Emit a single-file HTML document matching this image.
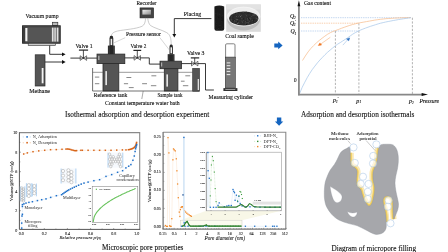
<!DOCTYPE html>
<html><head><meta charset="utf-8">
<style>
html,body{margin:0;padding:0;background:#fff;width:448px;height:252px;overflow:hidden}
svg{display:block;filter:blur(0.25px)}
text{font-family:"Liberation Serif",serif;fill:#111;stroke:#111;stroke-width:0.12}
.it{font-style:italic}
text.tn{stroke-width:0.04}
text.sm{stroke-width:0;fill:#222}
text.md{stroke-width:0.07}
</style></head>
<body>
<svg width="448" height="252" viewBox="0 0 448 252">
<rect width="448" height="252" fill="#fff"/>
<!-- ============ TOP LEFT: experiment ============ -->
<g id="exp">
<!-- vacuum pump -->
<text x="25.5" y="17.7" font-size="6.4" textLength="33" lengthAdjust="spacingAndGlyphs">Vacuum pump</text>
<rect x="52.6" y="22.3" width="5.2" height="3.2" fill="#bbb" stroke="#333" stroke-width="0.7"/>
<rect x="22.6" y="25.8" width="37.6" height="17.4" fill="#555" stroke="#222" stroke-width="1"/>
<rect x="23" y="26.2" width="2.3" height="16.6" fill="#3a3a3a"/>
<rect x="23" y="26.2" width="36.8" height="1.2" fill="#444"/>
<rect x="25.3" y="28" width="2.1" height="13.2" fill="#f4f4f4"/>
<rect x="51.9" y="27.6" width="1.7" height="14" fill="#e2e2e2"/>
<rect x="54.3" y="27.6" width="1.5" height="14" fill="#e2e2e2"/>
<rect x="56.7" y="27.6" width="1.7" height="14" fill="#e2e2e2"/>
<rect x="28.2" y="43.3" width="27.3" height="2.2" fill="#ccc" stroke="#333" stroke-width="0.6"/>
<!-- pipes with arrows -->
<path d="M49.7 45.5V54.3H62.5" fill="none" stroke="#222" stroke-width="0.9"/>
<path d="M62 52.4L65.6 54.3L62 56.2Z" fill="#111"/>
<path d="M45 62H62.5" fill="none" stroke="#222" stroke-width="0.9"/>
<path d="M62 60.1L65.6 62L62 63.9Z" fill="#111"/>
<!-- methane cylinder -->
<rect x="35.2" y="54.8" width="9.8" height="31.2" fill="#555" stroke="#2a2a2a" stroke-width="0.7"/>
<rect x="41.7" y="68" width="1.8" height="15.3" fill="#f4f4f4"/>
<text x="29.3" y="93.4" font-size="6.2" textLength="20.7" lengthAdjust="spacingAndGlyphs">Methane</text>
<!-- main pipe -->
<path d="M70.4 58.1H97" fill="none" stroke="#222" stroke-width="0.9"/>
<!-- valve 1 -->
<path d="M80.2 55.8L83.4 58.1L80.2 60.4ZM86.6 55.8L83.4 58.1L86.6 60.4Z" fill="#fff" stroke="#222" stroke-width="0.6" stroke-linejoin="miter"/><path d="M80.2 58.1H86.6" stroke="#222" stroke-width="0.6"/><path d="M83.4 58.1V50.1" stroke="#222" stroke-width="0.8"/><path d="M78.9 50.1H88.1" stroke="#222" stroke-width="1.2"/>
<text x="75.4" y="47.6" font-size="5.7" textLength="17.2" lengthAdjust="spacingAndGlyphs">Valve 1</text>
<!-- reference tank -->
<path d="M109.5 46V38.4Q109.5 35.8 111.4 35.6Q113.3 35.8 113.3 38.4V46Z" fill="#2a2a2a"/>
<rect x="110.6" y="38.8" width="1.6" height="6.4" fill="#f2f2f2"/>
<rect x="107.9" y="45.6" width="6.9" height="8.6" fill="#262626"/><path d="M109.1 46v8M113.6 46v8" stroke="#555" stroke-width="0.5"/>
<rect x="97" y="54.1" width="27.8" height="9.5" fill="#555" stroke="#2a2a2a" stroke-width="0.8"/>
<rect x="98.1" y="55.8" width="1.4" height="4.2" fill="#aaa"/>
<rect x="103" y="63.6" width="15.8" height="27.4" fill="#555" stroke="#2a2a2a" stroke-width="0.8"/>
<rect x="105.4" y="71.1" width="1.5" height="14" fill="#f4f4f4"/>
<!-- pipe to sample tank -->
<path d="M124.8 57.9H149.3V64.1H160" fill="none" stroke="#222" stroke-width="0.9"/>
<!-- valve 2 -->
<path d="M134.1 55.6L137.3 57.9L134.1 60.2ZM140.5 55.6L137.3 57.9L140.5 60.2Z" fill="#fff" stroke="#222" stroke-width="0.6" stroke-linejoin="miter"/><path d="M134.1 57.9H140.5" stroke="#222" stroke-width="0.6"/><path d="M137.3 57.9V50.4" stroke="#222" stroke-width="0.8"/><path d="M133.4 50.4H141.2" stroke="#222" stroke-width="1.2"/>
<text x="130.6" y="47.8" font-size="5.7" textLength="15.7" lengthAdjust="spacingAndGlyphs">Valve 2</text>
<!-- sample tank -->
<path d="M169.5 54.5V46.8Q169.5 44.4 171.2 44.3Q172.9 44.4 172.9 46.8V54.5Z" fill="#2a2a2a"/>
<rect x="170.5" y="47.3" width="1.5" height="6" fill="#f2f2f2"/>
<rect x="167.7" y="54.2" width="6.8" height="7" fill="#262626"/><path d="M168.9 54.5v6.6M173.3 54.5v6.6" stroke="#555" stroke-width="0.5"/>
<rect x="160" y="61.2" width="21.4" height="7.5" fill="#555" stroke="#2a2a2a" stroke-width="0.8"/>
<rect x="161" y="62.5" width="1.2" height="4" fill="#aaa"/>
<rect x="164.3" y="68.7" width="13.6" height="22.3" fill="#555" stroke="#2a2a2a" stroke-width="0.8"/>
<rect x="166.4" y="74.4" width="1.5" height="12.2" fill="#f4f4f4"/>
<!-- pipe to cylinder + valve 3 -->
<path d="M181.4 63.6H205.5V90H213.9" fill="none" stroke="#222" stroke-width="0.9"/>
<path d="M191.5 61.3L194.7 63.6L191.5 65.9ZM197.9 61.3L194.7 63.6L197.9 65.9Z" fill="#fff" stroke="#222" stroke-width="0.6" stroke-linejoin="miter"/><path d="M191.5 63.6H197.9" stroke="#222" stroke-width="0.6"/><path d="M194.7 63.6V57.9" stroke="#222" stroke-width="0.8"/><path d="M190.8 57.9H199.2" stroke="#222" stroke-width="1.2"/>
<text x="187" y="55.2" font-size="5.7" textLength="17.5" lengthAdjust="spacingAndGlyphs">Valve 3</text>
<!-- bath -->
<path d="M92.6 68V91H199.5" fill="none" stroke="#333" stroke-width="0.7"/>
<path d="M92.6 72.3H103M118.8 72.3H164.3M177.9 72.3H192.7" fill="none" stroke="#555" stroke-width="0.6"/>
<rect x="192.7" y="68.4" width="6.8" height="22.8" fill="#555" stroke="#2a2a2a" stroke-width="0.6"/>
<rect x="197.7" y="79" width="1.2" height="11" fill="#eee"/>
<g stroke="#555" stroke-width="0.7">
<path d="M94.9 77.1H99.3M94.9 83.7H99.3M126.4 77.5H131.3M123.9 83.7H128.1M128.8 87.6H133.7M151.4 75.8H156.3M142.1 83.7H147M150.9 85.7H156.3M185.3 75.8H190.2M180.9 81.2H184.6M182.9 85.7H188.3"/>
</g>
<path d="M143.2 91L141.8 99" stroke="#555" stroke-width="0.5"/>
<text x="93.7" y="96.8" font-size="6" textLength="33.6" lengthAdjust="spacingAndGlyphs">Reference tank</text>
<text x="157.5" y="96.8" font-size="6" textLength="25" lengthAdjust="spacingAndGlyphs">Sample tank</text>
<text x="105.1" y="104.6" font-size="6.2" textLength="74.5" lengthAdjust="spacingAndGlyphs">Constant temperature water bath</text>
<!-- recorder -->
<text x="136.4" y="5.2" font-size="5.6" textLength="20" lengthAdjust="spacingAndGlyphs">Recorder</text>
<rect x="140" y="7.9" width="13.6" height="10" fill="#444" stroke="#222" stroke-width="0.6"/>
<defs><linearGradient id="scr" x1="0" y1="0" x2="1" y2="1"><stop offset="0" stop-color="#f2f2f2"/><stop offset="1" stop-color="#8a8a8a"/></linearGradient></defs><rect x="142.4" y="9.8" width="8.5" height="4.8" fill="url(#scr)"/>
<path d="M145.5 17.9C145.5 22 144.6 25 142 26.3C136 29 125 29.5 117.6 31C113.5 32 111.6 33.5 111.4 35.8" fill="none" stroke="#aaa" stroke-width="0.6"/>
<path d="M147.7 17.9C148 21 148.8 24 150.5 25.5C154 28 162 30 166.7 32.6C170 34.5 171.2 38 171.2 44.4" fill="none" stroke="#aaa" stroke-width="0.6"/>
<path d="M125.2 37.7L114 42.8M159.9 37.7L169.4 50" stroke="#999" stroke-width="0.4"/>
<text x="126" y="36" font-size="5.9" textLength="35" lengthAdjust="spacingAndGlyphs">Pressure sensor</text>
<!-- placing -->
<text x="183.8" y="15.6" font-size="6" textLength="17.4" lengthAdjust="spacingAndGlyphs">Placing</text>
<path d="M211.4 18.6H174.3V34.5" fill="none" stroke="#222" stroke-width="0.9"/>
<path d="M172.4 34L174.3 37.6L176.2 34Z" fill="#111"/>
<!-- coal container & photo -->
<path d="M214.4 6.4Q219.3 4.8 224.2 6.4V28.8Q224.2 30.8 222.2 30.8H216.4Q214.4 30.8 214.4 28.8Z" fill="#1b1b1b"/>
<g><circle cx="222.8" cy="20.7" r="0.35" fill="#0a0a0a"/><circle cx="217.5" cy="29.6" r="0.35" fill="#3a3a3a"/><circle cx="221.8" cy="29.1" r="0.35" fill="#3a3a3a"/><circle cx="217.1" cy="13.1" r="0.35" fill="#3a3a3a"/><circle cx="220.4" cy="14.9" r="0.35" fill="#333"/><circle cx="215.5" cy="17.0" r="0.35" fill="#333"/><circle cx="220.1" cy="7.1" r="0.35" fill="#333"/><circle cx="220.9" cy="7.4" r="0.35" fill="#0a0a0a"/><circle cx="215.3" cy="8.2" r="0.35" fill="#0a0a0a"/><circle cx="219.4" cy="14.6" r="0.35" fill="#3a3a3a"/><circle cx="217.9" cy="18.0" r="0.35" fill="#3a3a3a"/><circle cx="223.1" cy="7.8" r="0.35" fill="#3a3a3a"/><circle cx="221.5" cy="21.5" r="0.35" fill="#3a3a3a"/><circle cx="215.8" cy="13.7" r="0.35" fill="#3a3a3a"/><circle cx="216.0" cy="16.0" r="0.35" fill="#3a3a3a"/><circle cx="219.6" cy="24.9" r="0.35" fill="#3a3a3a"/><circle cx="216.5" cy="24.0" r="0.35" fill="#0a0a0a"/><circle cx="218.3" cy="28.6" r="0.35" fill="#3a3a3a"/><circle cx="222.9" cy="15.3" r="0.35" fill="#3a3a3a"/><circle cx="218.8" cy="17.2" r="0.35" fill="#0a0a0a"/><circle cx="219.1" cy="13.2" r="0.35" fill="#333"/><circle cx="219.4" cy="24.3" r="0.35" fill="#0a0a0a"/><circle cx="221.0" cy="28.8" r="0.35" fill="#333"/><circle cx="216.3" cy="23.3" r="0.35" fill="#333"/><circle cx="222.1" cy="9.1" r="0.35" fill="#0a0a0a"/><circle cx="220.8" cy="9.2" r="0.35" fill="#333"/><circle cx="220.2" cy="25.4" r="0.35" fill="#333"/><circle cx="222.6" cy="27.1" r="0.35" fill="#3a3a3a"/><circle cx="219.0" cy="27.0" r="0.35" fill="#0a0a0a"/><circle cx="217.9" cy="15.5" r="0.35" fill="#333"/><circle cx="216.7" cy="25.1" r="0.35" fill="#333"/><circle cx="217.9" cy="14.2" r="0.35" fill="#3a3a3a"/><circle cx="215.7" cy="21.9" r="0.35" fill="#333"/><circle cx="220.9" cy="29.5" r="0.35" fill="#0a0a0a"/><circle cx="216.2" cy="29.7" r="0.35" fill="#333"/><circle cx="217.0" cy="29.2" r="0.35" fill="#333"/><circle cx="222.3" cy="18.9" r="0.35" fill="#0a0a0a"/><circle cx="221.7" cy="20.9" r="0.35" fill="#0a0a0a"/><circle cx="221.7" cy="17.8" r="0.35" fill="#0a0a0a"/><circle cx="215.7" cy="26.0" r="0.35" fill="#333"/></g>
<rect x="226.2" y="4.5" width="34.6" height="27.3" fill="#dadada"/>
<rect x="226.2" y="4.5" width="34.6" height="5" fill="#e2e2e2"/>
<ellipse cx="243.6" cy="19" rx="16.6" ry="11.4" fill="#bdbdbd"/>
<ellipse cx="243.6" cy="16.6" rx="16.3" ry="9.5" fill="#ededed" stroke="#fbfbfb" stroke-width="0.6"/>
<ellipse cx="243.8" cy="18.5" rx="14.6" ry="7.1" fill="#2e2e2e"/>
<g><circle cx="236.0" cy="19.1" r="0.52" fill="#4a4a4a"/><circle cx="243.0" cy="19.6" r="0.25" fill="#1a1a1a"/><circle cx="253.7" cy="15.1" r="0.31" fill="#666"/><circle cx="250.2" cy="19.1" r="0.39" fill="#1a1a1a"/><circle cx="247.9" cy="13.6" r="0.30" fill="#111"/><circle cx="256.3" cy="17.0" r="0.45" fill="#555"/><circle cx="246.4" cy="15.7" r="0.50" fill="#555"/><circle cx="236.9" cy="19.8" r="0.46" fill="#777"/><circle cx="256.2" cy="17.0" r="0.38" fill="#1a1a1a"/><circle cx="241.9" cy="20.3" r="0.38" fill="#4a4a4a"/><circle cx="253.6" cy="19.5" r="0.43" fill="#1a1a1a"/><circle cx="246.2" cy="24.2" r="0.52" fill="#111"/><circle cx="246.9" cy="21.2" r="0.51" fill="#111"/><circle cx="245.8" cy="21.5" r="0.44" fill="#666"/><circle cx="232.7" cy="18.2" r="0.55" fill="#111"/><circle cx="241.1" cy="13.6" r="0.38" fill="#4a4a4a"/><circle cx="241.2" cy="13.2" r="0.43" fill="#1a1a1a"/><circle cx="238.8" cy="23.8" r="0.40" fill="#4a4a4a"/><circle cx="231.3" cy="19.9" r="0.53" fill="#555"/><circle cx="236.8" cy="21.2" r="0.34" fill="#4a4a4a"/><circle cx="240.1" cy="17.9" r="0.37" fill="#1a1a1a"/><circle cx="254.6" cy="21.0" r="0.44" fill="#555"/><circle cx="256.7" cy="18.6" r="0.44" fill="#777"/><circle cx="241.9" cy="15.1" r="0.41" fill="#4a4a4a"/><circle cx="246.1" cy="11.8" r="0.43" fill="#1a1a1a"/><circle cx="232.9" cy="20.4" r="0.39" fill="#4a4a4a"/><circle cx="249.0" cy="16.4" r="0.33" fill="#111"/><circle cx="243.4" cy="19.8" r="0.26" fill="#111"/><circle cx="239.9" cy="20.3" r="0.43" fill="#4a4a4a"/><circle cx="238.4" cy="16.6" r="0.48" fill="#4a4a4a"/><circle cx="253.9" cy="15.2" r="0.28" fill="#777"/><circle cx="249.2" cy="13.3" r="0.32" fill="#1a1a1a"/><circle cx="252.7" cy="14.8" r="0.45" fill="#666"/><circle cx="248.2" cy="12.9" r="0.35" fill="#1a1a1a"/><circle cx="238.8" cy="23.2" r="0.49" fill="#777"/><circle cx="250.9" cy="14.6" r="0.39" fill="#1a1a1a"/><circle cx="235.6" cy="13.2" r="0.54" fill="#1a1a1a"/><circle cx="238.3" cy="23.2" r="0.31" fill="#1a1a1a"/><circle cx="237.2" cy="22.8" r="0.28" fill="#111"/><circle cx="247.3" cy="19.8" r="0.34" fill="#777"/><circle cx="252.4" cy="15.3" r="0.44" fill="#4a4a4a"/><circle cx="237.6" cy="19.5" r="0.53" fill="#555"/><circle cx="235.6" cy="21.9" r="0.47" fill="#111"/><circle cx="257.4" cy="19.1" r="0.51" fill="#666"/><circle cx="232.5" cy="14.9" r="0.52" fill="#555"/><circle cx="249.5" cy="24.4" r="0.42" fill="#777"/><circle cx="234.1" cy="15.7" r="0.26" fill="#111"/><circle cx="244.8" cy="12.2" r="0.28" fill="#1a1a1a"/><circle cx="245.0" cy="22.9" r="0.36" fill="#555"/><circle cx="234.8" cy="19.0" r="0.30" fill="#555"/><circle cx="252.8" cy="23.0" r="0.40" fill="#555"/><circle cx="245.8" cy="17.1" r="0.32" fill="#4a4a4a"/><circle cx="247.2" cy="18.8" r="0.39" fill="#555"/><circle cx="231.5" cy="18.5" r="0.30" fill="#4a4a4a"/><circle cx="231.1" cy="16.9" r="0.43" fill="#777"/><circle cx="239.6" cy="14.2" r="0.38" fill="#4a4a4a"/><circle cx="250.3" cy="22.6" r="0.30" fill="#1a1a1a"/><circle cx="240.0" cy="20.0" r="0.36" fill="#1a1a1a"/><circle cx="252.6" cy="20.2" r="0.27" fill="#777"/><circle cx="247.5" cy="22.1" r="0.38" fill="#4a4a4a"/><circle cx="249.5" cy="18.0" r="0.32" fill="#666"/><circle cx="237.0" cy="19.8" r="0.32" fill="#777"/><circle cx="245.5" cy="23.7" r="0.39" fill="#555"/><circle cx="248.5" cy="23.9" r="0.45" fill="#777"/><circle cx="250.6" cy="19.4" r="0.49" fill="#555"/><circle cx="250.1" cy="18.1" r="0.48" fill="#666"/><circle cx="253.9" cy="20.9" r="0.54" fill="#111"/><circle cx="246.1" cy="22.7" r="0.55" fill="#555"/><circle cx="245.6" cy="18.9" r="0.28" fill="#666"/><circle cx="230.8" cy="16.0" r="0.30" fill="#1a1a1a"/><circle cx="248.1" cy="17.9" r="0.48" fill="#111"/><circle cx="240.6" cy="16.6" r="0.53" fill="#777"/><circle cx="245.4" cy="25.0" r="0.40" fill="#777"/><circle cx="251.0" cy="13.7" r="0.42" fill="#111"/><circle cx="246.1" cy="24.4" r="0.40" fill="#111"/><circle cx="248.0" cy="24.1" r="0.30" fill="#666"/><circle cx="243.7" cy="18.3" r="0.41" fill="#111"/><circle cx="242.1" cy="21.6" r="0.29" fill="#666"/><circle cx="251.2" cy="13.6" r="0.34" fill="#1a1a1a"/><circle cx="235.9" cy="21.2" r="0.45" fill="#4a4a4a"/><circle cx="254.2" cy="19.8" r="0.43" fill="#1a1a1a"/><circle cx="236.9" cy="14.5" r="0.33" fill="#555"/><circle cx="252.7" cy="14.3" r="0.36" fill="#1a1a1a"/><circle cx="238.5" cy="22.3" r="0.38" fill="#666"/><circle cx="249.6" cy="21.3" r="0.39" fill="#666"/><circle cx="253.6" cy="23.0" r="0.26" fill="#1a1a1a"/><circle cx="248.1" cy="22.4" r="0.54" fill="#555"/><circle cx="254.2" cy="14.9" r="0.48" fill="#666"/><circle cx="233.1" cy="20.2" r="0.51" fill="#111"/><circle cx="255.5" cy="15.1" r="0.34" fill="#555"/><circle cx="241.5" cy="21.7" r="0.29" fill="#555"/><circle cx="230.1" cy="17.8" r="0.45" fill="#111"/><circle cx="241.9" cy="18.3" r="0.44" fill="#666"/><circle cx="250.9" cy="18.4" r="0.41" fill="#666"/><circle cx="232.5" cy="15.3" r="0.38" fill="#111"/><circle cx="241.9" cy="18.9" r="0.28" fill="#4a4a4a"/><circle cx="256.8" cy="16.7" r="0.48" fill="#4a4a4a"/><circle cx="237.7" cy="21.0" r="0.53" fill="#111"/><circle cx="256.9" cy="16.2" r="0.41" fill="#1a1a1a"/><circle cx="232.3" cy="18.4" r="0.27" fill="#4a4a4a"/><circle cx="237.7" cy="21.7" r="0.30" fill="#111"/><circle cx="248.0" cy="20.3" r="0.36" fill="#666"/><circle cx="256.1" cy="17.9" r="0.53" fill="#555"/><circle cx="233.2" cy="16.1" r="0.44" fill="#111"/><circle cx="241.4" cy="15.7" r="0.39" fill="#666"/><circle cx="238.2" cy="14.0" r="0.28" fill="#555"/><circle cx="234.3" cy="19.3" r="0.47" fill="#1a1a1a"/><circle cx="239.6" cy="15.2" r="0.27" fill="#777"/><circle cx="233.0" cy="18.2" r="0.32" fill="#4a4a4a"/><circle cx="251.7" cy="16.5" r="0.53" fill="#4a4a4a"/><circle cx="242.2" cy="22.8" r="0.36" fill="#555"/><circle cx="237.0" cy="12.9" r="0.42" fill="#555"/><circle cx="249.6" cy="19.4" r="0.47" fill="#111"/><circle cx="253.1" cy="22.0" r="0.43" fill="#1a1a1a"/><circle cx="254.4" cy="22.7" r="0.41" fill="#1a1a1a"/><circle cx="245.8" cy="14.3" r="0.36" fill="#4a4a4a"/><circle cx="237.6" cy="23.3" r="0.52" fill="#777"/><circle cx="257.0" cy="16.9" r="0.52" fill="#1a1a1a"/><circle cx="238.1" cy="18.5" r="0.46" fill="#1a1a1a"/><circle cx="237.8" cy="23.5" r="0.26" fill="#777"/><circle cx="234.6" cy="20.4" r="0.48" fill="#555"/><circle cx="248.5" cy="18.4" r="0.44" fill="#1a1a1a"/><circle cx="234.9" cy="22.5" r="0.26" fill="#666"/><circle cx="243.8" cy="20.5" r="0.28" fill="#777"/><circle cx="237.4" cy="20.7" r="0.29" fill="#666"/><circle cx="252.4" cy="20.2" r="0.26" fill="#555"/><circle cx="247.2" cy="18.6" r="0.41" fill="#777"/><circle cx="256.4" cy="16.0" r="0.46" fill="#4a4a4a"/><circle cx="246.7" cy="24.5" r="0.27" fill="#111"/><circle cx="234.9" cy="21.3" r="0.40" fill="#666"/><circle cx="233.7" cy="18.5" r="0.27" fill="#111"/><circle cx="254.1" cy="14.4" r="0.34" fill="#777"/><circle cx="242.7" cy="22.1" r="0.38" fill="#777"/><circle cx="242.4" cy="12.0" r="0.36" fill="#4a4a4a"/><circle cx="239.9" cy="18.9" r="0.37" fill="#1a1a1a"/><circle cx="236.6" cy="16.7" r="0.41" fill="#777"/><circle cx="246.2" cy="18.6" r="0.26" fill="#111"/><circle cx="243.5" cy="12.3" r="0.37" fill="#555"/><circle cx="250.1" cy="14.8" r="0.37" fill="#555"/><circle cx="243.0" cy="13.8" r="0.28" fill="#1a1a1a"/></g>
<text x="225.2" y="37.6" font-size="6.3" textLength="28.5" lengthAdjust="spacingAndGlyphs">Coal sample</text>
<!-- measuring cylinder -->
<rect x="225.6" y="43.8" width="9.4" height="15" rx="1.2" fill="#fff" stroke="#777" stroke-width="0.9"/>
<rect x="225.3" y="57.1" width="10" height="31" fill="#777" stroke="#333" stroke-width="0.6"/>
<g fill="#eee"><rect x="226.7" y="62.4" width="3.6" height="1"/><rect x="226.7" y="65.2" width="3.6" height="1"/><rect x="226.7" y="68.1" width="3.6" height="1"/><rect x="226.7" y="70.9" width="3.6" height="1"/><rect x="226.7" y="74.1" width="3.6" height="1"/></g>
<rect x="223.4" y="88.1" width="14" height="2.9" fill="#333"/>
<rect x="225.3" y="89" width="10" height="1" fill="#999"/>
<text x="208.6" y="98.6" font-size="6.1" textLength="44.4" lengthAdjust="spacingAndGlyphs">Measuring cylinder</text>
<!-- title -->
<text x="65" y="116.7" font-size="8.4" textLength="144.2" lengthAdjust="spacingAndGlyphs">Isothermal adsorption and desorption experiment</text>
</g>
<!-- ============ TOP RIGHT: isotherms ============ -->
<g id="iso">
<path d="M301 17.7H411" stroke="#bcd2ee" stroke-width="0.9" stroke-dasharray="1.4 0.9"/>
<path d="M301 23.2H358.8" stroke="#f8cba6" stroke-width="0.9" stroke-dasharray="1.4 0.9"/>
<path d="M301 31H358.8" stroke="#bcd2ee" stroke-width="0.9" stroke-dasharray="1.4 0.9"/>
<path d="M335.4 31V94M358.9 23.2V94M412.4 17.7V94" stroke="#999" stroke-width="0.75" stroke-dasharray="2.2 1.5"/>
<path d="M302.5 60.5 L305.3 56.0 L308.1 51.9 L310.8 48.5 L313.6 45.6 L316.4 42.9 L319.2 40.5 L322.0 38.3 L324.8 36.2 L327.5 34.3 L330.3 32.7 L333.1 31.4 L335.9 30.4 L338.7 29.4 L341.4 28.3 L344.2 27.3 L347.0 26.3 L349.8 25.4 L352.6 24.5 L355.4 23.8 L358.1 23.1 L360.9 22.6 L363.7 22.1 L366.5 21.6 L369.3 21.1 L372.1 20.6 L374.8 20.1 L377.6 19.7 L380.4 19.3 L383.2 19.0 L386.0 18.7 L388.7 18.5 L391.5 18.3 L394.3 18.1 L397.1 18.0 L399.9 17.9 L402.7 17.8 L405.4 17.7 L408.2 17.6 L411.0 17.6" fill="none" stroke="#f7bd8f" stroke-width="0.75"/>
<path d="M299.7 93.3 L302.2 87.3 L304.8 82.2 L307.3 77.5 L309.8 73.3 L312.3 69.5 L314.9 66.1 L317.4 62.9 L319.9 60.0 L322.5 57.3 L325.0 54.7 L327.5 52.3 L330.1 50.1 L332.6 48.0 L335.1 46.0 L337.6 44.2 L340.2 42.6 L342.7 41.0 L345.2 39.4 L347.8 37.7 L350.3 35.9 L352.8 34.1 L355.4 32.6 L357.9 31.3 L360.4 30.1 L362.9 29.1 L365.5 28.1 L368.0 27.2 L370.5 26.3 L373.1 25.5 L375.6 24.7 L378.1 23.9 L380.6 23.2 L383.2 22.6 L385.7 22.0 L388.2 21.5 L390.8 21.0 L393.3 20.5 L395.8 20.1 L398.4 19.6 L400.9 19.2 L403.4 18.8 L405.9 18.4 L408.5 18.0 L411.0 17.6" fill="none" stroke="#a9c8ea" stroke-width="0.75"/>
<path d="M330.3 37.3L320.8 44" stroke="#f7b27a" stroke-width="0.6"/>
<path d="M318.3 45.5L319.9 42.9L321.6 45Z" fill="#ee7420" stroke="#ee7420" stroke-width="0.5"/>
<path d="M342.9 45.1L347.6 39.8" stroke="#9dc0e6" stroke-width="0.6"/>
<path d="M349.7 37.9L348.7 40.8L346.6 39Z" fill="#2a6fc0" stroke="#2a6fc0" stroke-width="0.5"/>
<path d="M298.9 95.3V5" stroke="#888" stroke-width="1.8"/>
<path d="M297.5 6.3L298.9 0.3L300.3 6.3Z" fill="#111"/>
<path d="M298 94.6H423" stroke="#888" stroke-width="1.6"/>
<path d="M421.6 93.1L428 94.6L421.6 96.1Z" fill="#111"/>
<text x="304" y="4.6" font-size="5.4" textLength="27" lengthAdjust="spacingAndGlyphs">Gas content</text>
<g font-style="italic"><text x="290" y="17.7" font-size="5.8">Q</text><text x="294.1" y="18.8" font-size="3.4">2</text>
<text x="290" y="24.9" font-size="5.8">Q</text><text x="294.1" y="26" font-size="3.4">1</text><text x="295.3" y="23.2" font-size="3.4">′</text>
<text x="290.4" y="33.4" font-size="5.8">Q</text><text x="294.5" y="34.5" font-size="3.4">1</text></g>
<text x="294" y="81.6" font-size="5.2">0</text>
<g font-style="italic"><text x="333" y="102.3" font-size="6">p</text><text x="336.1" y="103.2" font-size="3.4">1</text><text x="337.6" y="100.2" font-size="3.6">′</text>
<text x="356.3" y="102.5" font-size="6">p</text><text x="359.4" y="103.4" font-size="3.4">1</text>
<text x="409" y="102.6" font-size="6">p</text><text x="412.1" y="103.5" font-size="3.4">2</text></g>
<text x="419.4" y="103.2" font-size="5.3" font-style="italic" textLength="19.6" lengthAdjust="spacingAndGlyphs">Pressure</text>
<text x="301" y="116.7" font-size="8.4" textLength="113.3" lengthAdjust="spacingAndGlyphs">Adsorption and desorption isothermals</text>
</g>
<!-- big blue arrows -->
<path d="M274.3 43.4H278.2V41.6L282.6 45.4L278.2 49.2V47.4H274.3Z" fill="#1565c0"/>
<path d="M276.9 117.6H281.3V121.4H283.3L279.1 125.7L274.9 121.4H276.9Z" fill="#1565c0"/>
<!-- ============ BOTTOM LEFT: N2 isotherm ============ -->
<g id="c1">
<path d="M19.4 132.6H139.7V229.4" fill="none" stroke="#8a8a8a" stroke-width="1.1"/>
<path d="M19.4 132.2V229.4H140.2" fill="none" stroke="#555" stroke-width="1"/>
<path d="M19.4 220.4h1 M19.4 210.7h1.6 M19.4 200.9h1 M19.4 191.2h1.6 M19.4 181.4h1 M19.4 171.7h1.6 M19.4 161.9h1 M19.4 152.2h1.6 M19.4 142.4h1 M32.8 229.4v-0.9 M44.3 229.4v-1.4 M55.9 229.4v-0.9 M67.4 229.4v-1.4 M79.0 229.4v-0.9 M90.6 229.4v-1.4 M102.1 229.4v-0.9 M113.7 229.4v-1.4 M125.2 229.4v-0.9" stroke="#555" stroke-width="0.5"/>
<text class="md" x="17.4" y="134.0" font-size="4.1" text-anchor="end">10</text>
<text class="md" x="17.4" y="153.7" font-size="4.1" text-anchor="end">8</text>
<text class="md" x="17.4" y="173.3" font-size="4.1" text-anchor="end">6</text>
<text class="md" x="17.4" y="192.6" font-size="4.1" text-anchor="end">4</text>
<text class="md" x="17.4" y="212.3" font-size="4.1" text-anchor="end">2</text>
<text class="md" x="17.4" y="231.5" font-size="4.1" text-anchor="end">0</text>
<text class="md" x="21.2" y="234.8" font-size="4.1" text-anchor="middle">0.0</text>
<text class="md" x="44.3" y="234.8" font-size="4.1" text-anchor="middle">0.2</text>
<text class="md" x="67.5" y="234.8" font-size="4.1" text-anchor="middle">0.4</text>
<text class="md" x="90.6" y="234.8" font-size="4.1" text-anchor="middle">0.6</text>
<text class="md" x="113.7" y="234.8" font-size="4.1" text-anchor="middle">0.8</text>
<text class="md" x="136.8" y="234.8" font-size="4.1" text-anchor="middle">1.0</text>
<text class="md" x="59.4" y="239.4" font-size="5" font-style="italic" textLength="41.6" lengthAdjust="spacingAndGlyphs">Relative pressure <tspan>p/p</tspan><tspan font-size="3" dy="0.8">0</tspan></text>
<text class="md" transform="translate(12.7 201.2) rotate(-90)" font-size="4.8" textLength="39.8" lengthAdjust="spacingAndGlyphs">Volume@STP (cc/g)</text>
<g><circle cx="23.3" cy="136.9" r="0.7" fill="#cfe2f5"/><rect x="26.3" y="136.1" width="1.6" height="1.6" fill="#1e6fc8"/><circle cx="30.3" cy="136.9" r="0.7" fill="#cfe2f5"/>
<circle cx="23.3" cy="142.7" r="0.7" fill="#f8d8c0"/><rect x="26.3" y="141.9" width="1.6" height="1.6" fill="#d8661a"/><circle cx="30.3" cy="142.7" r="0.7" fill="#f8d8c0"/></g>
<text class="sm" x="32.8" y="138.4" font-size="4.3" textLength="24" lengthAdjust="spacingAndGlyphs">N<tspan font-size="2.8" dy="0.8">2</tspan><tspan dy="-0.8"> Adsorption</tspan></text>
<text class="sm" x="32.8" y="144.2" font-size="4.3" textLength="24" lengthAdjust="spacingAndGlyphs">N<tspan font-size="2.8" dy="0.8">2</tspan><tspan dy="-0.8"> Desorption</tspan></text>
<path d="M23.7 154.0 L27.3 152.9 L33.0 151.7 L38.7 150.9 L44.7 150.3 L50.6 149.7 L56.3 149.6 L62.0 149.3 L66.0 149.1 L67.3 149.0 L68.5 149.1 L69.7 149.3 L70.9 149.6 L72.0 150.0 L73.2 150.3 L74.4 150.6 L75.6 150.7 L76.6 150.6 L80.9 150.3 L82.4 150.3 L88.1 150.3 L93.9 150.3 L99.6 150.3 L105.3 150.3 L111.0 150.3 L116.7 150.1 L122.4 149.9 L126.0 149.9 L128.5 149.7 L129.6 149.5 L130.7 149.2 L131.7 148.9 L132.6 148.5 L133.5 148.0 L134.3 147.4 L135.0 146.6 L135.6 145.6 L136.1 144.5 L136.4 143.4 L136.6 142.4" fill="none" stroke="#f3c9a8" stroke-width="0.6" stroke-dasharray="0.8 0.8"/>
<g fill="#d8661a"><rect x="22.95" y="153.25" width="1.5" height="1.5"/><rect x="26.55" y="152.15" width="1.5" height="1.5"/><rect x="32.25" y="150.95" width="1.5" height="1.5"/><rect x="37.95" y="150.15" width="1.5" height="1.5"/><rect x="43.95" y="149.55" width="1.5" height="1.5"/><rect x="49.85" y="148.95" width="1.5" height="1.5"/><rect x="55.55" y="148.85" width="1.5" height="1.5"/><rect x="61.25" y="148.55" width="1.5" height="1.5"/><rect x="65.25" y="148.35" width="1.5" height="1.5"/><rect x="66.55" y="148.25" width="1.5" height="1.5"/><rect x="67.75" y="148.35" width="1.5" height="1.5"/><rect x="68.95" y="148.55" width="1.5" height="1.5"/><rect x="70.15" y="148.85" width="1.5" height="1.5"/><rect x="71.25" y="149.25" width="1.5" height="1.5"/><rect x="72.45" y="149.55" width="1.5" height="1.5"/><rect x="73.65" y="149.85" width="1.5" height="1.5"/><rect x="74.85" y="149.95" width="1.5" height="1.5"/><rect x="75.85" y="149.85" width="1.5" height="1.5"/><rect x="80.15" y="149.55" width="1.5" height="1.5"/><rect x="81.65" y="149.55" width="1.5" height="1.5"/><rect x="87.35" y="149.55" width="1.5" height="1.5"/><rect x="93.15" y="149.55" width="1.5" height="1.5"/><rect x="98.85" y="149.55" width="1.5" height="1.5"/><rect x="104.55" y="149.55" width="1.5" height="1.5"/><rect x="110.25" y="149.55" width="1.5" height="1.5"/><rect x="115.95" y="149.35" width="1.5" height="1.5"/><rect x="121.65" y="149.15" width="1.5" height="1.5"/><rect x="125.25" y="149.15" width="1.5" height="1.5"/><rect x="127.75" y="148.95" width="1.5" height="1.5"/><rect x="128.85" y="148.75" width="1.5" height="1.5"/><rect x="129.95" y="148.45" width="1.5" height="1.5"/><rect x="130.95" y="148.15" width="1.5" height="1.5"/><rect x="131.85" y="147.75" width="1.5" height="1.5"/><rect x="132.75" y="147.25" width="1.5" height="1.5"/><rect x="133.55" y="146.65" width="1.5" height="1.5"/><rect x="134.25" y="145.85" width="1.5" height="1.5"/><rect x="134.85" y="144.85" width="1.5" height="1.5"/><rect x="135.35" y="143.75" width="1.5" height="1.5"/><rect x="135.65" y="142.65" width="1.5" height="1.5"/><rect x="135.85" y="141.65" width="1.5" height="1.5"/></g>
<path d="M21.7 228.1 L21.7 223.1 L22.0 216.0 L22.4 214.3 L22.4 206.5 L22.4 204.6 L23.9 203.9 L26.0 203.1 L28.9 202.4 L32.4 201.7 L37.4 200.6 L41.7 199.7 L46.0 198.9 L50.7 197.4 L56.4 195.7 L61.6 194.7 L62.8 193.8 L64.0 193.0 L65.2 192.2 L66.4 191.4 L67.6 190.6 L68.8 189.9 L70.5 189.0 L72.4 188.1 L74.3 187.2 L76.3 186.3 L78.6 185.2 L81.2 184.1 L84.0 183.1 L88.1 182.1 L93.9 180.7 L99.6 179.7 L106.0 176.4 L111.7 174.6 L117.6 172.3 L122.6 170.7 L125.9 167.9 L128.7 166.2 L130.9 164.6 L132.9 160.3 L134.3 156.0 L135.1 151.5 L135.6 148.8 L136.0 147.2 L136.4 145.8 L136.7 144.6" fill="none" stroke="#b9d5f0" stroke-width="0.6" stroke-dasharray="0.8 0.8"/>
<g fill="#1e6fc8"><rect x="20.95" y="227.35" width="1.5" height="1.5"/><rect x="20.95" y="222.35" width="1.5" height="1.5"/><rect x="21.25" y="215.25" width="1.5" height="1.5"/><rect x="21.65" y="213.55" width="1.5" height="1.5"/><rect x="21.65" y="205.75" width="1.5" height="1.5"/><rect x="21.65" y="203.85" width="1.5" height="1.5"/><rect x="23.15" y="203.15" width="1.5" height="1.5"/><rect x="25.25" y="202.35" width="1.5" height="1.5"/><rect x="28.15" y="201.65" width="1.5" height="1.5"/><rect x="31.65" y="200.95" width="1.5" height="1.5"/><rect x="36.65" y="199.85" width="1.5" height="1.5"/><rect x="40.95" y="198.95" width="1.5" height="1.5"/><rect x="45.25" y="198.15" width="1.5" height="1.5"/><rect x="49.95" y="196.65" width="1.5" height="1.5"/><rect x="55.65" y="194.95" width="1.5" height="1.5"/><rect x="60.85" y="193.95" width="1.5" height="1.5"/><rect x="62.05" y="193.05" width="1.5" height="1.5"/><rect x="63.25" y="192.25" width="1.5" height="1.5"/><rect x="64.45" y="191.45" width="1.5" height="1.5"/><rect x="65.65" y="190.65" width="1.5" height="1.5"/><rect x="66.85" y="189.85" width="1.5" height="1.5"/><rect x="68.05" y="189.15" width="1.5" height="1.5"/><rect x="69.75" y="188.25" width="1.5" height="1.5"/><rect x="71.65" y="187.35" width="1.5" height="1.5"/><rect x="73.55" y="186.45" width="1.5" height="1.5"/><rect x="75.55" y="185.55" width="1.5" height="1.5"/><rect x="77.85" y="184.45" width="1.5" height="1.5"/><rect x="80.45" y="183.35" width="1.5" height="1.5"/><rect x="83.25" y="182.35" width="1.5" height="1.5"/><rect x="87.35" y="181.35" width="1.5" height="1.5"/><rect x="93.15" y="179.95" width="1.5" height="1.5"/><rect x="98.85" y="178.95" width="1.5" height="1.5"/><rect x="105.25" y="175.65" width="1.5" height="1.5"/><rect x="110.95" y="173.85" width="1.5" height="1.5"/><rect x="116.85" y="171.55" width="1.5" height="1.5"/><rect x="121.85" y="169.95" width="1.5" height="1.5"/><rect x="125.15" y="167.15" width="1.5" height="1.5"/><rect x="127.95" y="165.45" width="1.5" height="1.5"/><rect x="130.15" y="163.85" width="1.5" height="1.5"/><rect x="132.15" y="159.55" width="1.5" height="1.5"/><rect x="133.55" y="155.25" width="1.5" height="1.5"/><rect x="134.35" y="150.75" width="1.5" height="1.5"/><rect x="134.85" y="148.05" width="1.5" height="1.5"/><rect x="135.25" y="146.45" width="1.5" height="1.5"/><rect x="135.65" y="145.05" width="1.5" height="1.5"/><rect x="135.95" y="143.85" width="1.5" height="1.5"/></g>
<rect x="20.3" y="186.4" width="4.5" height="15" fill="#f6f9fd"/><path d="M20.3 186.4v15M24.8 186.4v15" stroke="#a9cdef" stroke-width="0.9"/><g fill="#fff" stroke="#8a8a8a" stroke-width="0.4"><circle cx="21.8" cy="187.9" r="1.1"/><circle cx="23.4" cy="189.1" r="1.1"/><circle cx="21.8" cy="190.3" r="1.1"/><circle cx="23.4" cy="191.5" r="1.1"/><circle cx="21.8" cy="192.7" r="1.1"/><circle cx="23.4" cy="193.9" r="1.1"/><circle cx="21.8" cy="195.1" r="1.1"/><circle cx="23.4" cy="196.3" r="1.1"/><circle cx="21.8" cy="197.5" r="1.1"/><circle cx="23.4" cy="198.7" r="1.1"/><circle cx="21.8" cy="199.9" r="1.1"/><circle cx="23.4" cy="201.1" r="1.1"/></g>
<rect x="26.4" y="183.2" width="4.8" height="13.7" fill="#f6f9fd"/><path d="M26.4 183.2v13.7M31.2 183.2v13.7" stroke="#a9cdef" stroke-width="0.9"/><g fill="#fff" stroke="#8a8a8a" stroke-width="0.4"><circle cx="28.8" cy="185.2" r="1.6"/><circle cx="28.8" cy="188.8" r="1.6"/><circle cx="28.8" cy="192.4" r="1.6"/><circle cx="28.8" cy="196.0" r="1.6"/></g>
<path d="M32.4 183.6v12.7M36.4 183.6v12.7" stroke="#a9cdef" stroke-width="0.9"/><g fill="#fff" stroke="#8a8a8a" stroke-width="0.4"><circle cx="34.3" cy="186.0" r="1.6"/><circle cx="34.3" cy="189.6" r="1.6"/><circle cx="34.3" cy="193.2" r="1.6"/></g>
<rect x="61.1" y="168.5" width="14.8" height="15" fill="#f6f9fd"/><path d="M61.1 168.5v15M75.9 168.5v15" stroke="#a9cdef" stroke-width="0.9"/><g fill="#fff" stroke="#8a8a8a" stroke-width="0.4"><circle cx="63.0" cy="171.0" r="1.6"/><circle cx="63.0" cy="175.6" r="1.6"/><circle cx="63.0" cy="180.2" r="1.6"/><circle cx="68.4" cy="170.3" r="1.6"/><circle cx="71.4" cy="172.0" r="1.6"/><circle cx="68.4" cy="173.7" r="1.6"/><circle cx="71.4" cy="175.4" r="1.6"/><circle cx="68.4" cy="177.1" r="1.6"/><circle cx="71.4" cy="178.8" r="1.6"/><circle cx="68.4" cy="180.5" r="1.6"/><circle cx="71.4" cy="182.2" r="1.6"/></g>
<rect x="108" y="152.6" width="14.8" height="15" fill="#f6f9fd"/><path d="M108 152.6v15M122.8 152.6v15" stroke="#a9cdef" stroke-width="0.9"/><g fill="#fff" stroke="#8a8a8a" stroke-width="0.4"><circle cx="109.6" cy="154.2" r="1.2"/><circle cx="119.4" cy="154.2" r="1.2"/><circle cx="110.8" cy="156.7" r="1.2"/><circle cx="113.3" cy="156.7" r="1.2"/><circle cx="118.2" cy="156.7" r="1.2"/><circle cx="120.6" cy="156.7" r="1.2"/><circle cx="109.6" cy="159.2" r="1.2"/><circle cx="112.0" cy="159.2" r="1.2"/><circle cx="114.5" cy="159.2" r="1.2"/><circle cx="116.9" cy="159.2" r="1.2"/><circle cx="119.4" cy="159.2" r="1.2"/><circle cx="110.8" cy="161.7" r="1.2"/><circle cx="113.3" cy="161.7" r="1.2"/><circle cx="115.7" cy="161.7" r="1.2"/><circle cx="118.2" cy="161.7" r="1.2"/><circle cx="120.6" cy="161.7" r="1.2"/><circle cx="109.6" cy="164.2" r="1.2"/><circle cx="112.0" cy="164.2" r="1.2"/><circle cx="119.4" cy="164.2" r="1.2"/><circle cx="110.8" cy="166.7" r="1.2"/><circle cx="120.6" cy="166.7" r="1.2"/></g>
<text class="sm" x="24.6" y="208.8" font-size="4.5" textLength="17.8" lengthAdjust="spacingAndGlyphs">Monolayer</text>
<text class="sm" x="63" y="198.5" font-size="4.5" textLength="17.7" lengthAdjust="spacingAndGlyphs">Multilayer</text>
<text class="sm" x="24.6" y="222.6" font-size="4.5" textLength="17.1" lengthAdjust="spacingAndGlyphs">Micropore</text>
<text class="sm" x="28.1" y="227.4" font-size="4.5" textLength="9.3" lengthAdjust="spacingAndGlyphs">filling</text>
<text class="sm" x="119.2" y="176.9" font-size="4.8" textLength="15.6" lengthAdjust="spacingAndGlyphs">Capillary</text>
<text class="sm" x="116.4" y="181" font-size="4.8" textLength="22.3" lengthAdjust="spacingAndGlyphs">condensation</text>
<rect x="92.2" y="186.4" width="45.6" height="35.9" fill="#fff" stroke="#777" stroke-width="0.5"/>
<path d="M93.2 222.0 L94.1 217.2 L94.9 215.2 L95.8 213.7 L96.7 212.4 L97.5 211.3 L98.4 210.3 L99.3 209.3 L100.1 208.5 L101.0 207.6 L101.9 206.9 L102.7 206.1 L103.6 205.4 L104.5 204.7 L105.3 204.1 L106.2 203.5 L107.1 202.9 L107.9 202.3 L108.8 201.7 L109.7 201.1 L110.5 200.6 L111.4 200.1 L112.3 199.6 L113.1 199.0 L114.0 198.6 L114.9 198.1 L115.8 197.6 L116.6 197.1 L117.5 196.7 L118.4 196.2 L119.2 195.8 L120.1 195.4 L121.0 194.9 L121.8 194.5 L122.7 194.1 L123.6 193.7 L124.4 193.3 L125.3 192.9 L126.2 192.5 L127.0 192.1 L127.9 191.7 L128.8 191.4 L129.6 191.0 L130.5 190.6 L131.4 190.3 L132.2 189.9 L133.1 189.5 L134.0 189.2 L134.8 188.8 L135.7 188.5" fill="none" stroke="#66c25a" stroke-width="1.1"/>
<rect x="95.8" y="188.7" width="1.2" height="1.2" fill="#5cbf4f"/>
<text class="tn" x="99.5" y="190.3" font-size="2.6" textLength="10.8" lengthAdjust="spacingAndGlyphs">CO<tspan font-size="1.8">2</tspan> Adsorption</text>
<text class="tn" x="94.0" y="225.2" font-size="2.4" text-anchor="middle">0.00</text>
<text class="tn" x="108.0" y="225.2" font-size="2.4" text-anchor="middle">0.01</text>
<text class="tn" x="122.0" y="225.2" font-size="2.4" text-anchor="middle">0.02</text>
<text class="tn" x="136.0" y="225.2" font-size="2.4" text-anchor="middle">0.03</text>
<text class="tn" x="91.2" y="222.3" font-size="2.2" text-anchor="end">0.0</text>
<text class="tn" x="91.2" y="215.6" font-size="2.2" text-anchor="end">0.5</text>
<text class="tn" x="91.2" y="208.9" font-size="2.2" text-anchor="end">1.0</text>
<text class="tn" x="91.2" y="202.2" font-size="2.2" text-anchor="end">1.5</text>
<text class="tn" x="91.2" y="195.5" font-size="2.2" text-anchor="end">2.0</text>
<text class="tn" x="91.2" y="188.8" font-size="2.2" text-anchor="end">2.5</text>
</g>
<!-- END c1 -->
<!-- ============ BOTTOM MID: PSD ============ -->
<g id="c2">
<path d="M180.3 220.2L206.3 210.8H281.3L242 220.2Z" fill="#f7f6e4" opacity="0.9"/>
<rect x="180.3" y="220.2" width="61.7" height="6.5" fill="#fbfbef" stroke="#c8c8c0" stroke-width="0.45"/>
<path d="M163.1 132.2H285.8V229.1" fill="none" stroke="#8a8a8a" stroke-width="1.1"/>
<path d="M163.1 132V229.1H286.2" fill="none" stroke="#777" stroke-width="1.3"/>
<path d="M163.5 226.4h1.3 M163.5 217.4h0.8 M163.5 208.4h1.3 M163.5 199.4h0.8 M163.5 190.4h1.3 M163.5 181.4h0.8 M163.5 172.4h1.3 M163.5 163.4h0.8 M163.5 154.4h1.3 M163.5 145.4h0.8 M163.5 136.4h1.3 M162.9 229.1v-1.3 M166.5 229.1v-0.8 M169.5 229.1v-0.8 M171.9 229.1v-0.8 M174.1 229.1v-1.3 M177.7 229.1v-0.8 M180.7 229.1v-0.8 M183.1 229.1v-0.8 M185.3 229.1v-1.3 M188.9 229.1v-0.8 M191.9 229.1v-0.8 M194.3 229.1v-0.8 M196.5 229.1v-1.3 M200.1 229.1v-0.8 M203.1 229.1v-0.8 M205.5 229.1v-0.8 M207.7 229.1v-1.3 M211.3 229.1v-0.8 M214.3 229.1v-0.8 M216.7 229.1v-0.8 M218.9 229.1v-1.3 M222.5 229.1v-0.8 M225.5 229.1v-0.8 M227.9 229.1v-0.8 M230.1 229.1v-1.3 M233.7 229.1v-0.8 M236.7 229.1v-0.8 M239.1 229.1v-0.8 M241.3 229.1v-1.3 M244.9 229.1v-0.8 M247.9 229.1v-0.8 M250.3 229.1v-0.8 M252.5 229.1v-1.3 M256.1 229.1v-0.8 M259.1 229.1v-0.8 M261.5 229.1v-0.8 M263.7 229.1v-1.3 M267.3 229.1v-0.8 M270.3 229.1v-0.8 M272.7 229.1v-0.8 M274.9 229.1v-1.3 M278.5 229.1v-0.8 M281.5 229.1v-0.8 M283.9 229.1v-0.8 M286.1 229.1v-1.3" stroke="#555" stroke-width="0.45"/>
<text class="md" x="160.9" y="137.6" font-size="4.1" text-anchor="end">0.25</text>
<text class="md" x="160.9" y="155.5" font-size="4.1" text-anchor="end">0.20</text>
<text class="md" x="160.9" y="173.4" font-size="4.1" text-anchor="end">0.15</text>
<text class="md" x="160.9" y="191.4" font-size="4.1" text-anchor="end">0.10</text>
<text class="md" x="160.9" y="209.6" font-size="4.1" text-anchor="end">0.05</text>
<text class="md" x="160.9" y="227.7" font-size="4.1" text-anchor="end">0.00</text>
<text class="md" x="162.9" y="235.2" font-size="4.1" text-anchor="middle">0.25</text>
<text class="md" x="174.3" y="235.2" font-size="4.1" text-anchor="middle">0.5</text>
<text class="md" x="185.4" y="235.2" font-size="4.1" text-anchor="middle">1</text>
<text class="md" x="196.4" y="235.2" font-size="4.1" text-anchor="middle">2</text>
<text class="md" x="207.3" y="235.2" font-size="4.1" text-anchor="middle">4</text>
<text class="md" x="218.6" y="235.2" font-size="4.1" text-anchor="middle">8</text>
<text class="md" x="229.7" y="235.2" font-size="4.1" text-anchor="middle">16</text>
<text class="md" x="240.9" y="235.2" font-size="4.1" text-anchor="middle">32</text>
<text class="md" x="251.6" y="235.2" font-size="4.1" text-anchor="middle">64</text>
<text class="md" x="262.6" y="235.2" font-size="4.1" text-anchor="middle">128</text>
<text class="md" x="273.3" y="235.2" font-size="4.1" text-anchor="middle">256</text>
<text class="md" x="284.7" y="235.2" font-size="4.1" text-anchor="middle">512</text>
<text class="md" x="204.6" y="240.1" font-size="5.2" font-style="italic" textLength="40.3" lengthAdjust="spacingAndGlyphs">Pore diameter (nm)</text>
<text class="md" transform="translate(151.3 202.3) rotate(-90)" font-size="4.8" textLength="42.8" lengthAdjust="spacingAndGlyphs">Volume@STP (cc/g)</text>
<g><circle cx="254.6" cy="135.8" r="0.6" fill="#d6e6f6"/><rect x="257" y="135.1" width="1.4" height="1.4" fill="#1e6fc8"/><circle cx="260.6" cy="135.8" r="0.6" fill="#d6e6f6"/>
<circle cx="254.6" cy="141.4" r="0.6" fill="#d6ecd4"/><rect x="257" y="140.7" width="1.4" height="1.4" fill="#2e8b2e"/><circle cx="260.6" cy="141.4" r="0.6" fill="#d6ecd4"/>
<circle cx="254.6" cy="146.6" r="0.6" fill="#fbe0c8"/><rect x="257" y="145.9" width="1.4" height="1.4" fill="#f08a2c"/><circle cx="260.6" cy="146.6" r="0.6" fill="#fbe0c8"/></g>
<text class="sm" x="263.5" y="137.4" font-size="4.4">BJH-N<tspan font-size="2.8" dy="0.8">2</tspan></text>
<text class="sm" x="263.5" y="143" font-size="4.4">DFT-N<tspan font-size="2.8" dy="0.8">2</tspan></text>
<text class="sm" x="263.5" y="148.2" font-size="4.4">DFT-CO<tspan font-size="2.8" dy="0.8">2</tspan></text>
<path d="M165.4 225.5 L166.4 226.4 L167.4 226.4 L168.0 137.6 L168.9 152.9 L169.6 225.8 L170.3 226.4 L171.1 226.4 L171.8 218.7 L172.9 159.8 L173.5 148.9 L174.3 149.9 L175.3 150.9 L176.3 158.8 L176.9 170.8 L177.6 184.0 L178.3 197.7 L179.3 212.1 L179.9 216.5 L180.4 209.6 L181.1 207.4 L181.8 206.8 L182.6 206.7" fill="none" stroke="#fbe0c8" stroke-width="0.45"/>
<g fill="#f08a2c"><rect x="164.75" y="224.85" width="1.3" height="1.3"/><rect x="165.75" y="225.75" width="1.3" height="1.3"/><rect x="166.75" y="225.75" width="1.3" height="1.3"/><rect x="167.35" y="136.95" width="1.3" height="1.3"/><rect x="168.25" y="152.25" width="1.3" height="1.3"/><rect x="168.95" y="225.15" width="1.3" height="1.3"/><rect x="169.65" y="225.75" width="1.3" height="1.3"/><rect x="170.45" y="225.75" width="1.3" height="1.3"/><rect x="171.15" y="218.05" width="1.3" height="1.3"/><rect x="172.25" y="159.15" width="1.3" height="1.3"/><rect x="172.85" y="148.25" width="1.3" height="1.3"/><rect x="173.65" y="149.25" width="1.3" height="1.3"/><rect x="174.65" y="150.25" width="1.3" height="1.3"/><rect x="175.65" y="158.15" width="1.3" height="1.3"/><rect x="176.25" y="170.15" width="1.3" height="1.3"/><rect x="176.95" y="183.35" width="1.3" height="1.3"/><rect x="177.65" y="197.05" width="1.3" height="1.3"/><rect x="178.65" y="211.45" width="1.3" height="1.3"/><rect x="179.25" y="215.85" width="1.3" height="1.3"/><rect x="179.75" y="208.95" width="1.3" height="1.3"/><rect x="180.45" y="206.75" width="1.3" height="1.3"/><rect x="181.15" y="206.15" width="1.3" height="1.3"/><rect x="181.95" y="206.05" width="1.3" height="1.3"/><rect x="181.95" y="206.05" width="1.3" height="1.3"/><rect x="182.85" y="208.15" width="1.3" height="1.3"/><rect x="183.85" y="209.95" width="1.3" height="1.3"/><rect x="184.95" y="211.35" width="1.3" height="1.3"/><rect x="186.15" y="212.55" width="1.3" height="1.3"/><rect x="187.35" y="213.55" width="1.3" height="1.3"/><rect x="188.65" y="214.35" width="1.3" height="1.3"/><rect x="189.75" y="215.05" width="1.3" height="1.3"/><rect x="190.75" y="215.65" width="1.3" height="1.3"/></g>
<path d="M183.9 137.4V226.3" stroke="#d3e5f6" stroke-width="1.6"/>
<rect x="183.2" y="136.7" width="1.4" height="1.4" fill="#1e6fc8"/>
<rect x="182.3" y="194.2" width="1.4" height="1.4" fill="#2a5a9a"/>
<path d="M181 226.3H278" stroke="#d6e6f6" stroke-width="0.5"/>
<g fill="#1e6fc8"><rect x="180.85" y="225.6" width="1.3" height="1.3"/><rect x="184.35" y="225.6" width="1.3" height="1.3"/><rect x="187.35" y="225.6" width="1.3" height="1.3"/><rect x="199.35" y="225.6" width="1.3" height="1.3"/><rect x="202.35" y="225.6" width="1.3" height="1.3"/><rect x="205.35" y="225.6" width="1.3" height="1.3"/><rect x="208.35" y="225.6" width="1.3" height="1.3"/><rect x="214.35" y="225.6" width="1.3" height="1.3"/><rect x="244.75" y="225.6" width="1.3" height="1.3"/><rect x="254.05" y="225.6" width="1.3" height="1.3"/><rect x="265.05" y="225.6" width="1.3" height="1.3"/><rect x="271.95" y="225.6" width="1.3" height="1.3"/><rect x="273.65" y="225.6" width="1.3" height="1.3"/><rect x="276.25" y="225.6" width="1.3" height="1.3"/></g>
<rect x="183.6" y="222.2" width="1.3" height="1.3" fill="#1e6fc8"/>
<path d="M182.0 226.2 L183.0 226.0 L184.0 225.6 L185.0 223.8 L186.0 222.2 L187.1 221.4 L188.1 223.1 L189.1 225.2 L190.1 226.0 L191.1 226.2 L192.1 226.2 L193.1 226.2 L194.1 226.2 L195.2 226.2 L196.2 226.2 L197.2 226.1 L198.2 226.1 L199.2 226.1 L200.2 226.1 L201.2 226.1 L202.2 226.0 L203.2 226.0 L204.3 225.8 L205.3 225.2 L206.3 225.0 L207.3 225.8 L208.3 226.0 L209.3 226.1 L210.3 226.1 L211.3 226.1 L212.4 226.1 L213.4 226.1 L214.4 226.1 L215.4 226.1 L216.4 226.1 L217.4 226.1 L218.4 226.1 L219.4 226.1 L220.5 226.1 L221.5 226.1 L222.5 226.1 L223.5 226.1 L224.5 226.1 L225.5 226.1 L226.5 226.1 L227.5 226.1 L228.5 226.1 L229.6 226.1 L230.6 226.1 L231.6 226.1 L232.6 226.1 L233.6 226.1 L234.6 226.1 L235.6 226.1 L236.6 226.1 L237.7 226.1 L238.7 226.1 L239.7 226.1 L240.7 226.1 L241.7 226.1" fill="none" stroke="#2b7a2b" stroke-width="1.2"/>
<g fill="#2f8a2f"><rect x="181.95" y="225.61" width="1.1" height="1.1"/><rect x="183.55" y="224.98" width="1.1" height="1.1"/><rect x="185.15" y="222.16" width="1.1" height="1.1"/><rect x="186.75" y="221.13" width="1.1" height="1.1"/><rect x="188.35" y="224.28" width="1.1" height="1.1"/><rect x="189.95" y="225.60" width="1.1" height="1.1"/><rect x="191.55" y="225.65" width="1.1" height="1.1"/><rect x="193.15" y="225.64" width="1.1" height="1.1"/><rect x="194.75" y="225.62" width="1.1" height="1.1"/><rect x="196.35" y="225.60" width="1.1" height="1.1"/><rect x="197.95" y="225.58" width="1.1" height="1.1"/><rect x="199.55" y="225.55" width="1.1" height="1.1"/><rect x="201.15" y="225.50" width="1.1" height="1.1"/><rect x="202.75" y="225.41" width="1.1" height="1.1"/><rect x="204.35" y="224.90" width="1.1" height="1.1"/><rect x="205.95" y="224.59" width="1.1" height="1.1"/><rect x="207.55" y="225.43" width="1.1" height="1.1"/><rect x="209.15" y="225.55" width="1.1" height="1.1"/><rect x="210.75" y="225.55" width="1.1" height="1.1"/><rect x="212.35" y="225.55" width="1.1" height="1.1"/><rect x="213.95" y="225.55" width="1.1" height="1.1"/><rect x="215.55" y="225.55" width="1.1" height="1.1"/><rect x="217.15" y="225.55" width="1.1" height="1.1"/><rect x="218.75" y="225.55" width="1.1" height="1.1"/><rect x="220.35" y="225.55" width="1.1" height="1.1"/><rect x="221.95" y="225.55" width="1.1" height="1.1"/><rect x="223.55" y="225.55" width="1.1" height="1.1"/><rect x="225.15" y="225.55" width="1.1" height="1.1"/><rect x="226.75" y="225.55" width="1.1" height="1.1"/><rect x="228.35" y="225.55" width="1.1" height="1.1"/><rect x="229.95" y="225.55" width="1.1" height="1.1"/><rect x="231.55" y="225.55" width="1.1" height="1.1"/><rect x="233.15" y="225.55" width="1.1" height="1.1"/><rect x="234.75" y="225.55" width="1.1" height="1.1"/><rect x="236.35" y="225.55" width="1.1" height="1.1"/><rect x="237.95" y="225.55" width="1.1" height="1.1"/><rect x="239.55" y="225.55" width="1.1" height="1.1"/></g>
<rect x="206.3" y="152.2" width="75" height="58.6" fill="#fff" stroke="#999" stroke-width="0.6"/>
<path d="M206.3 152.2V210.8" stroke="#999" stroke-width="0.8"/>
<text class="tn" x="205.2" y="153.0" font-size="2.2" text-anchor="end">0.014</text>
<text class="tn" x="205.2" y="160.8" font-size="2.2" text-anchor="end">0.012</text>
<text class="tn" x="205.2" y="168.6" font-size="2.2" text-anchor="end">0.010</text>
<text class="tn" x="205.2" y="176.4" font-size="2.2" text-anchor="end">0.008</text>
<text class="tn" x="205.2" y="184.2" font-size="2.2" text-anchor="end">0.006</text>
<text class="tn" x="205.2" y="192.0" font-size="2.2" text-anchor="end">0.004</text>
<text class="tn" x="205.2" y="199.8" font-size="2.2" text-anchor="end">0.002</text>
<text class="tn" x="205.2" y="207.8" font-size="2.2" text-anchor="end">0.000</text>
<text class="tn" x="211" y="214.5" font-size="2.4" text-anchor="middle">1</text>
<path d="M211 210.8v-0.8" stroke="#555" stroke-width="0.4"/>
<text class="tn" x="225.1" y="214.5" font-size="2.4" text-anchor="middle">2</text>
<path d="M225.1 210.8v-0.8" stroke="#555" stroke-width="0.4"/>
<text class="tn" x="239" y="214.5" font-size="2.4" text-anchor="middle">3</text>
<path d="M239 210.8v-0.8" stroke="#555" stroke-width="0.4"/>
<text class="tn" x="253.1" y="214.5" font-size="2.4" text-anchor="middle">4</text>
<path d="M253.1 210.8v-0.8" stroke="#555" stroke-width="0.4"/>
<text class="tn" x="267.2" y="214.5" font-size="2.4" text-anchor="middle">5</text>
<path d="M267.2 210.8v-0.8" stroke="#555" stroke-width="0.4"/>
<text class="tn" x="280.7" y="214.5" font-size="2.4" text-anchor="middle">6</text>
<path d="M280.7 210.8v-0.8" stroke="#555" stroke-width="0.4"/>
<rect x="252.7" y="201.6" width="28.4" height="3" fill="#e4e4e4"/>
<text class="tn" x="253.9" y="201" font-size="2.6">1.5 nm</text>
<path d="M207.9 152.5V207.3" stroke="#cfe3f6" stroke-width="0.7"/>
<path d="M207.9 152.5 L208.1 170.7 L209.3 178.3 L210.3 207.3 L213.5 207.3 L216.1 207.3 L218.0 205.4 L219.2 202.9 L224.3 206.7 L226.9 206.0 L228.8 205.5 L231.3 205.5 L233.0 189.5 L233.8 191.4 L234.5 192.7 L235.1 200.3 L236.4 195.2 L237.7 201.6 L238.9 196.3 L240.2 203.5 L242.1 206.0 L246.0 207.0 L250.0 206.8 L255.0 207.0 L260.0 207.2 L265.0 207.2 L270.0 207.3 L275.0 207.3 L280.0 207.3" fill="none" stroke="#d6e6f6" stroke-width="0.5"/>
<g fill="#1e6fc8"><rect x="207.25" y="151.85" width="1.3" height="1.3"/><rect x="207.45" y="170.05" width="1.3" height="1.3"/><rect x="208.65" y="177.65" width="1.3" height="1.3"/><rect x="209.65" y="206.65" width="1.3" height="1.3"/><rect x="212.85" y="206.65" width="1.3" height="1.3"/><rect x="215.45" y="206.65" width="1.3" height="1.3"/><rect x="217.35" y="204.75" width="1.3" height="1.3"/><rect x="218.55" y="202.25" width="1.3" height="1.3"/><rect x="223.65" y="206.05" width="1.3" height="1.3"/><rect x="226.25" y="205.35" width="1.3" height="1.3"/><rect x="228.15" y="204.85" width="1.3" height="1.3"/><rect x="230.65" y="204.85" width="1.3" height="1.3"/><rect x="232.35" y="188.85" width="1.3" height="1.3"/><rect x="233.15" y="190.75" width="1.3" height="1.3"/><rect x="233.85" y="192.05" width="1.3" height="1.3"/><rect x="235.75" y="194.55" width="1.3" height="1.3"/><rect x="234.45" y="199.65" width="1.3" height="1.3"/><rect x="237.05" y="200.95" width="1.3" height="1.3"/><rect x="238.25" y="195.65" width="1.3" height="1.3"/><rect x="239.55" y="202.85" width="1.3" height="1.3"/><rect x="241.45" y="205.35" width="1.3" height="1.3"/><rect x="245.35" y="206.35" width="1.3" height="1.3"/><rect x="249.35" y="206.15" width="1.3" height="1.3"/><rect x="254.35" y="206.35" width="1.3" height="1.3"/><rect x="259.35" y="206.55" width="1.3" height="1.3"/><rect x="264.35" y="206.55" width="1.3" height="1.3"/><rect x="269.35" y="206.65" width="1.3" height="1.3"/><rect x="274.35" y="206.65" width="1.3" height="1.3"/><rect x="279.35" y="206.65" width="1.3" height="1.3"/></g>
<path d="M209.7 207.2 L210.3 195.9 L211.0 180.0 L211.4 165.0 L212.4 156.4 L213.3 160.7 L214.3 172.1 L215.2 188.6 L216.1 201.6 L217.5 207.0" fill="none" stroke="#b8dcb0" stroke-width="0.5" stroke-dasharray="0.8 0.6"/>
<g fill="#3b9a3b"><rect x="209.75" y="195.35" width="1.1" height="1.1"/><rect x="210.45" y="179.45" width="1.1" height="1.1"/><rect x="210.85" y="164.45" width="1.1" height="1.1"/><rect x="211.85" y="155.85" width="1.1" height="1.1"/><rect x="212.75" y="160.15" width="1.1" height="1.1"/><rect x="213.75" y="171.55" width="1.1" height="1.1"/><rect x="214.65" y="188.05" width="1.1" height="1.1"/><rect x="215.55" y="201.05" width="1.1" height="1.1"/></g>
<g fill="#3b9a3b"><rect x="236.95" y="200.45" width="1.1" height="1.1"/><rect x="238.35" y="195.35" width="1.1" height="1.1"/><rect x="239.45" y="190.95" width="1.1" height="1.1"/><rect x="240.25" y="191.55" width="1.1" height="1.1"/><rect x="240.95" y="193.95" width="1.1" height="1.1"/><rect x="241.75" y="197.95" width="1.1" height="1.1"/></g>
<path d="M217.5 207.1 L218.4 207.1 L219.3 207.1 L220.3 207.1 L221.2 207.1 L222.1 207.1 L223.0 207.1 L223.9 207.1 L224.9 207.1 L225.8 207.1 L226.7 207.1 L227.6 207.1 L228.5 207.1 L229.5 207.1 L230.4 207.1 L231.3 207.1 L232.2 207.1 L233.1 207.1 L234.1 207.1 L235.0 207.1 L235.9 207.1 L236.8 206.9 L237.7 206.3 L238.7 205.8 L239.6 205.2 L240.5 204.8 L241.4 204.5 L242.3 205.0 L243.3 205.7 L244.2 206.5 L245.1 207.1 L246.0 207.1 L246.9 206.6 L247.9 205.8 L248.8 204.4 L249.7 203.6 L250.6 204.1 L251.6 204.8 L252.5 205.6 L253.4 206.3 L254.3 206.6 L255.2 206.8 L256.2 206.9 L257.1 207.0 L258.0 207.0 L258.9 207.0 L259.8 207.0 L260.8 207.0 L261.7 207.0 L262.6 207.0 L263.5 207.0 L264.4 207.1 L265.4 207.1 L266.3 207.1 L267.2 207.1 L268.1 207.1 L269.0 207.1 L270.0 207.1 L270.9 207.1 L271.8 207.1 L272.7 207.1 L273.6 207.1 L274.6 207.1 L275.5 207.1 L276.4 207.1 L277.3 207.1 L278.2 207.1 L279.2 207.1 L280.1 207.1 L281.0 207.1" fill="none" stroke="#2b7a2b" stroke-width="1.1"/>
</g>
<!-- END c2 -->
<!-- ============ BOTTOM RIGHT: micropore diagram ============ -->
<g id="diag">
<path d="M378.9 147.8L350.3 152.7L349.7 147Z" fill="#fff"/>
<path d="M378.9 147.8 C378.7 148.6 378.1 150.8 377.9 152.7 C377.6 154.6 377.7 157.1 377.4 159.0 C377.1 160.9 376.7 162.5 376.2 164.0 C375.7 165.5 374.9 166.6 374.4 168.0 C373.9 169.4 373.2 171.0 373.0 172.5 C372.8 174.0 372.9 175.6 372.9 177.0 C372.9 178.4 372.9 179.3 373.2 181.0 C373.5 182.7 374.4 184.9 374.6 187.0 C374.8 189.1 374.5 191.3 374.2 193.4 C373.9 195.5 373.4 197.9 373.0 199.7 C372.6 201.5 372.1 203.0 371.5 204.0 C370.9 205.0 370.3 205.6 369.6 205.8 C368.9 206.0 368.4 206.0 367.5 205.0 C366.6 204.0 365.1 201.7 364.2 200.0 C363.3 198.3 363.0 196.8 362.4 195.0 C361.8 193.2 361.5 190.7 360.6 189.2 C359.7 187.7 357.9 187.4 357.2 186.0 C356.5 184.6 356.5 182.7 356.4 181.0 C356.3 179.3 356.7 177.7 356.8 176.0 C356.9 174.3 357.3 172.4 357.0 171.0 C356.7 169.6 356.0 168.8 355.0 167.8 C354.0 166.8 352.0 166.7 351.2 165.2 C350.4 163.7 350.4 161.1 350.3 159.0 C350.2 156.9 350.3 153.8 350.3 152.7" fill="none" stroke="#fae8b4" stroke-width="7" stroke-linejoin="round"/>
<path d="M378.9 147.8 C378.7 148.6 378.1 150.8 377.9 152.7 C377.6 154.6 377.7 157.1 377.4 159.0 C377.1 160.9 376.7 162.5 376.2 164.0 C375.7 165.5 374.9 166.6 374.4 168.0 C373.9 169.4 373.2 171.0 373.0 172.5 C372.8 174.0 372.9 175.6 372.9 177.0 C372.9 178.4 372.9 179.3 373.2 181.0 C373.5 182.7 374.4 184.9 374.6 187.0 C374.8 189.1 374.5 191.3 374.2 193.4 C373.9 195.5 373.4 197.9 373.0 199.7 C372.6 201.5 372.1 203.0 371.5 204.0 C370.9 205.0 370.3 205.6 369.6 205.8 C368.9 206.0 368.4 206.0 367.5 205.0 C366.6 204.0 365.1 201.7 364.2 200.0 C363.3 198.3 363.0 196.8 362.4 195.0 C361.8 193.2 361.5 190.7 360.6 189.2 C359.7 187.7 357.9 187.4 357.2 186.0 C356.5 184.6 356.5 182.7 356.4 181.0 C356.3 179.3 356.7 177.7 356.8 176.0 C356.9 174.3 357.3 172.4 357.0 171.0 C356.7 169.6 356.0 168.8 355.0 167.8 C354.0 166.8 352.0 166.7 351.2 165.2 C350.4 163.7 350.4 161.1 350.3 159.0 C350.2 156.9 350.3 153.8 350.3 152.7" fill="none" stroke="#f3d05e" stroke-width="3.2" stroke-linejoin="round"/>
<path d="M386.3 222.0 C386.2 220.8 386.1 217.2 385.9 215.0 C385.6 212.8 385.2 210.9 384.8 209.0 C384.4 207.1 383.7 205.1 383.4 203.5 C383.1 201.9 383.0 200.6 383.2 199.5 C383.4 198.4 383.9 197.6 384.6 197.0 C385.3 196.4 386.6 196.0 387.6 196.0 C388.6 196.0 389.8 196.3 390.6 196.8 C391.4 197.3 392.0 198.1 392.4 199.2 C392.8 200.3 392.8 201.9 392.9 203.5 C393.0 205.1 392.9 206.8 392.9 208.5 C392.9 210.2 393.0 211.7 393.1 213.5 C393.2 215.3 393.5 218.2 393.6 219.2" fill="none" stroke="#fae8b4" stroke-width="6" stroke-linejoin="round"/>
<path d="M386.3 222.0 C386.2 220.8 386.1 217.2 385.9 215.0 C385.6 212.8 385.2 210.9 384.8 209.0 C384.4 207.1 383.7 205.1 383.4 203.5 C383.1 201.9 383.0 200.6 383.2 199.5 C383.4 198.4 383.9 197.6 384.6 197.0 C385.3 196.4 386.6 196.0 387.6 196.0 C388.6 196.0 389.8 196.3 390.6 196.8 C391.4 197.3 392.0 198.1 392.4 199.2 C392.8 200.3 392.8 201.9 392.9 203.5 C393.0 205.1 392.9 206.8 392.9 208.5 C392.9 210.2 393.0 211.7 393.1 213.5 C393.2 215.3 393.5 218.2 393.6 219.2" fill="none" stroke="#f3d05e" stroke-width="3.2" stroke-linejoin="round"/>
<path d="M349.7 147.0 C349.1 146.3 347.8 147.9 346.5 148.6 C345.2 149.3 343.4 150.0 342.2 151.0 C341.0 152.0 340.3 153.1 339.5 154.5 C338.7 155.9 338.1 157.8 337.2 159.5 C336.3 161.2 335.5 162.8 334.4 164.5 C333.2 166.2 331.5 168.1 330.3 170.0 C329.1 171.9 328.2 174.0 327.4 176.0 C326.6 178.0 325.8 180.0 325.3 182.0 C324.8 184.0 324.7 186.0 324.5 188.0 C324.3 190.0 324.3 192.0 324.3 194.0 C324.3 196.0 324.3 197.8 324.7 200.0 C325.1 202.2 325.5 204.6 326.7 207.0 C327.9 209.4 329.7 212.1 331.7 214.3 C333.7 216.5 336.0 218.4 338.9 220.0 C341.8 221.6 345.8 222.6 348.9 223.6 C352.0 224.6 354.5 224.7 357.4 225.8 C360.2 226.9 363.1 228.6 366.0 230.0 C368.9 231.4 372.3 233.7 375.0 234.2 C377.7 234.7 380.2 234.1 382.0 233.2 C383.8 232.3 385.1 230.9 385.8 229.0 C386.5 227.1 386.3 224.3 386.3 222.0 C386.3 219.7 386.1 217.2 385.9 215.0 C385.6 212.8 385.2 210.9 384.8 209.0 C384.4 207.1 383.7 205.1 383.4 203.5 C383.1 201.9 383.0 200.6 383.2 199.5 C383.4 198.4 383.9 197.6 384.6 197.0 C385.3 196.4 386.6 196.0 387.6 196.0 C388.6 196.0 389.8 196.3 390.6 196.8 C391.4 197.3 392.0 198.1 392.4 199.2 C392.8 200.3 392.8 201.9 392.9 203.5 C393.0 205.1 392.9 206.8 392.9 208.5 C392.9 210.2 393.0 211.7 393.1 213.5 C393.2 215.3 393.2 218.9 393.6 219.2 C394.0 219.4 394.9 216.6 395.6 215.0 C396.3 213.4 397.3 211.3 397.8 209.5 C398.3 207.7 398.6 205.9 398.5 204.0 C398.4 202.1 397.8 200.2 397.4 198.0 C396.9 195.8 396.2 193.0 395.8 190.5 C395.4 188.0 395.0 185.4 395.0 183.0 C395.0 180.6 395.4 178.3 395.8 176.0 C396.2 173.7 397.0 171.3 397.4 169.0 C397.8 166.7 398.2 164.2 398.3 162.0 C398.4 159.8 398.4 157.7 398.2 155.7 C398.0 153.7 397.5 151.6 396.9 150.0 C396.3 148.4 395.6 147.1 394.6 146.2 C393.7 145.3 393.2 144.7 391.2 144.4 C389.1 144.1 384.1 144.2 382.3 144.4 C380.5 144.6 380.7 145.0 380.1 145.6 C379.5 146.2 379.3 146.6 378.9 147.8 C378.5 149.0 378.1 150.8 377.9 152.7 C377.6 154.6 377.7 157.1 377.4 159.0 C377.1 160.9 376.7 162.5 376.2 164.0 C375.7 165.5 374.9 166.6 374.4 168.0 C373.9 169.4 373.2 171.0 373.0 172.5 C372.8 174.0 372.9 175.6 372.9 177.0 C372.9 178.4 372.9 179.3 373.2 181.0 C373.5 182.7 374.4 184.9 374.6 187.0 C374.8 189.1 374.5 191.3 374.2 193.4 C373.9 195.5 373.4 197.9 373.0 199.7 C372.6 201.5 372.1 203.0 371.5 204.0 C370.9 205.0 370.3 205.6 369.6 205.8 C368.9 206.0 368.4 206.0 367.5 205.0 C366.6 204.0 365.1 201.7 364.2 200.0 C363.3 198.3 363.0 196.8 362.4 195.0 C361.8 193.2 361.5 190.7 360.6 189.2 C359.7 187.7 357.9 187.4 357.2 186.0 C356.5 184.6 356.5 182.7 356.4 181.0 C356.3 179.3 356.7 177.7 356.8 176.0 C356.9 174.3 357.3 172.4 357.0 171.0 C356.7 169.6 356.0 168.8 355.0 167.8 C354.0 166.8 352.0 166.7 351.2 165.2 C350.4 163.7 350.4 161.1 350.3 159.0 C350.2 156.9 350.4 154.7 350.3 152.7 C350.2 150.7 350.3 147.7 349.7 147.0Z" fill="#a6a7ab" stroke="#8e939b" stroke-width="0.4"/>
<path d="M330 186.6C333.5 188 339.2 191.6 341.6 195.2C343.2 198.6 340.2 203.2 336.8 202.7C333.4 202.1 331.6 196.6 330 186.6Z" fill="#fff" stroke="#8e939b" stroke-width="0.3"/>
<path d="M347.3 211.5C350.2 213.2 353.4 213.4 357.1 212.1C357.4 215.1 355.2 217.2 352.8 217.1C350.3 216.8 348.4 214.6 347.3 211.5Z" fill="#fff" stroke="#8e939b" stroke-width="0.3"/>
<g fill="#fff" fill-opacity="0.55" stroke="#a8c6e6" stroke-width="0.55"><circle cx="353.5" cy="147.4" r="3.6"/><circle cx="354.8" cy="162.9" r="3.6"/><circle cx="376.4" cy="144.4" r="3.6"/><circle cx="373.2" cy="155.9" r="3.6"/><circle cx="373" cy="163.5" r="3.6"/><circle cx="363" cy="176.7" r="3.6"/><circle cx="360.7" cy="183.9" r="3.6"/><circle cx="368.6" cy="183.9" r="3.6"/><circle cx="367.8" cy="191.8" r="3.6"/><circle cx="367.8" cy="199" r="3.6"/><circle cx="388.6" cy="200.3" r="3.6"/><circle cx="387.9" cy="206.7" r="3.6"/><circle cx="390.5" cy="223.3" r="3.6"/></g>
<path d="M347.8 140.6L350.4 143.6M366.2 140.6L375.2 150.6" stroke="#666" stroke-width="0.35"/>
<text class="md" x="331" y="134.9" font-size="4.8" textLength="18.1" lengthAdjust="spacingAndGlyphs">Methane</text>
<text class="md" x="329.1" y="139.9" font-size="4.8" textLength="20.9" lengthAdjust="spacingAndGlyphs">molecules</text>
<text class="md" x="356.6" y="134.9" font-size="4.8" textLength="21.9" lengthAdjust="spacingAndGlyphs">Adsorption</text>
<text class="md" x="359.5" y="139.9" font-size="4.8" textLength="17.1" lengthAdjust="spacingAndGlyphs">potential</text>
</g>
<text x="102" y="250.4" font-size="8.6" textLength="81.4" lengthAdjust="spacingAndGlyphs">Microscopic pore properties</text>
<text x="331.4" y="250.6" font-size="8.6" textLength="84.7" lengthAdjust="spacingAndGlyphs">Diagram of micropore filling</text>
<!-- END diag -->
</svg>
</body></html>
